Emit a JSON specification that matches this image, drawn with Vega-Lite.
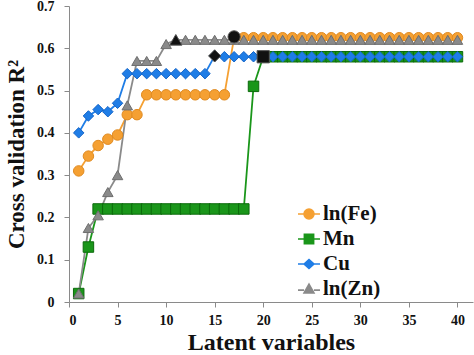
{
  "$schema": "https://vega.github.io/schema/vega-lite/v6.json",
  "width": 404,
  "height": 296,
  "autosize": {"type": "none"},
  "padding": {"left": 69, "top": 6, "right": 1, "bottom": 53},
  "config": {
    "view": {"stroke": null},
    "font": "Liberation Serif",
    "axis": {
      "domainColor": "#8a8a8a",
      "tickColor": "#8a8a8a",
      "grid": false,
      "labelFont": "Liberation Serif",
      "labelFontWeight": "bold",
      "labelFontSize": 14,
      "labelColor": "#111",
      "titleFont": "Liberation Serif",
      "titleFontWeight": "bold",
      "titleColor": "#111",
      "tickSize": 5
    },
    "legend": {"labelFont": "Liberation Serif", "labelFontWeight": "bold"}
  },
  "resolve": {
    "scale": {"shape": "independent", "stroke": "independent"},
    "legend": {"color": "independent", "shape": "independent", "stroke": "independent"}
  },
  "datasets": {
    "cv": [
      {"series": "Mn", "lv": 1, "r2": 0.02}, {"series": "Mn", "lv": 2, "r2": 0.13}, {"series": "Mn", "lv": 3, "r2": 0.22}, {"series": "Mn", "lv": 4, "r2": 0.22}, {"series": "Mn", "lv": 5, "r2": 0.22}, {"series": "Mn", "lv": 6, "r2": 0.22}, {"series": "Mn", "lv": 7, "r2": 0.22}, {"series": "Mn", "lv": 8, "r2": 0.22}, {"series": "Mn", "lv": 9, "r2": 0.22}, {"series": "Mn", "lv": 10, "r2": 0.22},
      {"series": "Mn", "lv": 11, "r2": 0.22}, {"series": "Mn", "lv": 12, "r2": 0.22}, {"series": "Mn", "lv": 13, "r2": 0.22}, {"series": "Mn", "lv": 14, "r2": 0.22}, {"series": "Mn", "lv": 15, "r2": 0.22}, {"series": "Mn", "lv": 16, "r2": 0.22}, {"series": "Mn", "lv": 17, "r2": 0.22}, {"series": "Mn", "lv": 18, "r2": 0.22}, {"series": "Mn", "lv": 19, "r2": 0.51}, {"series": "Mn", "lv": 20, "r2": 0.58},
      {"series": "Mn", "lv": 21, "r2": 0.58}, {"series": "Mn", "lv": 22, "r2": 0.58}, {"series": "Mn", "lv": 23, "r2": 0.58}, {"series": "Mn", "lv": 24, "r2": 0.58}, {"series": "Mn", "lv": 25, "r2": 0.58}, {"series": "Mn", "lv": 26, "r2": 0.58}, {"series": "Mn", "lv": 27, "r2": 0.58}, {"series": "Mn", "lv": 28, "r2": 0.58}, {"series": "Mn", "lv": 29, "r2": 0.58}, {"series": "Mn", "lv": 30, "r2": 0.58},
      {"series": "Mn", "lv": 31, "r2": 0.58}, {"series": "Mn", "lv": 32, "r2": 0.58}, {"series": "Mn", "lv": 33, "r2": 0.58}, {"series": "Mn", "lv": 34, "r2": 0.58}, {"series": "Mn", "lv": 35, "r2": 0.58}, {"series": "Mn", "lv": 36, "r2": 0.58}, {"series": "Mn", "lv": 37, "r2": 0.58}, {"series": "Mn", "lv": 38, "r2": 0.58}, {"series": "Mn", "lv": 39, "r2": 0.58}, {"series": "Mn", "lv": 40, "r2": 0.58},
      {"series": "ln(Fe)", "lv": 1, "r2": 0.31}, {"series": "ln(Fe)", "lv": 2, "r2": 0.345}, {"series": "ln(Fe)", "lv": 3, "r2": 0.37}, {"series": "ln(Fe)", "lv": 4, "r2": 0.385}, {"series": "ln(Fe)", "lv": 5, "r2": 0.395}, {"series": "ln(Fe)", "lv": 6, "r2": 0.443}, {"series": "ln(Fe)", "lv": 7, "r2": 0.443}, {"series": "ln(Fe)", "lv": 8, "r2": 0.49}, {"series": "ln(Fe)", "lv": 9, "r2": 0.49}, {"series": "ln(Fe)", "lv": 10, "r2": 0.49},
      {"series": "ln(Fe)", "lv": 11, "r2": 0.49}, {"series": "ln(Fe)", "lv": 12, "r2": 0.49}, {"series": "ln(Fe)", "lv": 13, "r2": 0.49}, {"series": "ln(Fe)", "lv": 14, "r2": 0.49}, {"series": "ln(Fe)", "lv": 15, "r2": 0.49}, {"series": "ln(Fe)", "lv": 16, "r2": 0.49}, {"series": "ln(Fe)", "lv": 17, "r2": 0.625}, {"series": "ln(Fe)", "lv": 18, "r2": 0.625}, {"series": "ln(Fe)", "lv": 19, "r2": 0.625}, {"series": "ln(Fe)", "lv": 20, "r2": 0.625},
      {"series": "ln(Fe)", "lv": 21, "r2": 0.625}, {"series": "ln(Fe)", "lv": 22, "r2": 0.625}, {"series": "ln(Fe)", "lv": 23, "r2": 0.625}, {"series": "ln(Fe)", "lv": 24, "r2": 0.625}, {"series": "ln(Fe)", "lv": 25, "r2": 0.625}, {"series": "ln(Fe)", "lv": 26, "r2": 0.625}, {"series": "ln(Fe)", "lv": 27, "r2": 0.625}, {"series": "ln(Fe)", "lv": 28, "r2": 0.625}, {"series": "ln(Fe)", "lv": 29, "r2": 0.625}, {"series": "ln(Fe)", "lv": 30, "r2": 0.625},
      {"series": "ln(Fe)", "lv": 31, "r2": 0.625}, {"series": "ln(Fe)", "lv": 32, "r2": 0.625}, {"series": "ln(Fe)", "lv": 33, "r2": 0.625}, {"series": "ln(Fe)", "lv": 34, "r2": 0.625}, {"series": "ln(Fe)", "lv": 35, "r2": 0.625}, {"series": "ln(Fe)", "lv": 36, "r2": 0.625}, {"series": "ln(Fe)", "lv": 37, "r2": 0.625}, {"series": "ln(Fe)", "lv": 38, "r2": 0.625}, {"series": "ln(Fe)", "lv": 39, "r2": 0.625}, {"series": "ln(Fe)", "lv": 40, "r2": 0.625},
      {"series": "Cu", "lv": 1, "r2": 0.40}, {"series": "Cu", "lv": 2, "r2": 0.44}, {"series": "Cu", "lv": 3, "r2": 0.455}, {"series": "Cu", "lv": 4, "r2": 0.45}, {"series": "Cu", "lv": 5, "r2": 0.47}, {"series": "Cu", "lv": 6, "r2": 0.54}, {"series": "Cu", "lv": 7, "r2": 0.54}, {"series": "Cu", "lv": 8, "r2": 0.54}, {"series": "Cu", "lv": 9, "r2": 0.54}, {"series": "Cu", "lv": 10, "r2": 0.54},
      {"series": "Cu", "lv": 11, "r2": 0.54}, {"series": "Cu", "lv": 12, "r2": 0.54}, {"series": "Cu", "lv": 13, "r2": 0.54}, {"series": "Cu", "lv": 14, "r2": 0.54}, {"series": "Cu", "lv": 15, "r2": 0.582}, {"series": "Cu", "lv": 16, "r2": 0.58}, {"series": "Cu", "lv": 17, "r2": 0.58}, {"series": "Cu", "lv": 18, "r2": 0.58}, {"series": "Cu", "lv": 19, "r2": 0.58}, {"series": "Cu", "lv": 20, "r2": 0.58},
      {"series": "Cu", "lv": 21, "r2": 0.58}, {"series": "Cu", "lv": 22, "r2": 0.58}, {"series": "Cu", "lv": 23, "r2": 0.58}, {"series": "Cu", "lv": 24, "r2": 0.58}, {"series": "Cu", "lv": 25, "r2": 0.58}, {"series": "Cu", "lv": 26, "r2": 0.58}, {"series": "Cu", "lv": 27, "r2": 0.58}, {"series": "Cu", "lv": 28, "r2": 0.58}, {"series": "Cu", "lv": 29, "r2": 0.58}, {"series": "Cu", "lv": 30, "r2": 0.58},
      {"series": "Cu", "lv": 31, "r2": 0.58}, {"series": "Cu", "lv": 32, "r2": 0.58}, {"series": "Cu", "lv": 33, "r2": 0.58}, {"series": "Cu", "lv": 34, "r2": 0.58}, {"series": "Cu", "lv": 35, "r2": 0.58}, {"series": "Cu", "lv": 36, "r2": 0.58}, {"series": "Cu", "lv": 37, "r2": 0.58}, {"series": "Cu", "lv": 38, "r2": 0.58}, {"series": "Cu", "lv": 39, "r2": 0.58}, {"series": "Cu", "lv": 40, "r2": 0.58},
      {"series": "ln(Zn)", "lv": 1, "r2": 0.02}, {"series": "ln(Zn)", "lv": 2, "r2": 0.175}, {"series": "ln(Zn)", "lv": 3, "r2": 0.205}, {"series": "ln(Zn)", "lv": 4, "r2": 0.26}, {"series": "ln(Zn)", "lv": 5, "r2": 0.30}, {"series": "ln(Zn)", "lv": 6, "r2": 0.465}, {"series": "ln(Zn)", "lv": 7, "r2": 0.57}, {"series": "ln(Zn)", "lv": 8, "r2": 0.57}, {"series": "ln(Zn)", "lv": 9, "r2": 0.57}, {"series": "ln(Zn)", "lv": 10, "r2": 0.61},
      {"series": "ln(Zn)", "lv": 11, "r2": 0.62}, {"series": "ln(Zn)", "lv": 12, "r2": 0.62}, {"series": "ln(Zn)", "lv": 13, "r2": 0.62}, {"series": "ln(Zn)", "lv": 14, "r2": 0.62}, {"series": "ln(Zn)", "lv": 15, "r2": 0.62}, {"series": "ln(Zn)", "lv": 16, "r2": 0.62}, {"series": "ln(Zn)", "lv": 17, "r2": 0.62}, {"series": "ln(Zn)", "lv": 18, "r2": 0.62}, {"series": "ln(Zn)", "lv": 19, "r2": 0.62}, {"series": "ln(Zn)", "lv": 20, "r2": 0.62},
      {"series": "ln(Zn)", "lv": 21, "r2": 0.62}, {"series": "ln(Zn)", "lv": 22, "r2": 0.62}, {"series": "ln(Zn)", "lv": 23, "r2": 0.62}, {"series": "ln(Zn)", "lv": 24, "r2": 0.62}, {"series": "ln(Zn)", "lv": 25, "r2": 0.62}, {"series": "ln(Zn)", "lv": 26, "r2": 0.62}, {"series": "ln(Zn)", "lv": 27, "r2": 0.62}, {"series": "ln(Zn)", "lv": 28, "r2": 0.62}, {"series": "ln(Zn)", "lv": 29, "r2": 0.62}, {"series": "ln(Zn)", "lv": 30, "r2": 0.62},
      {"series": "ln(Zn)", "lv": 31, "r2": 0.62}, {"series": "ln(Zn)", "lv": 32, "r2": 0.62}, {"series": "ln(Zn)", "lv": 33, "r2": 0.62}, {"series": "ln(Zn)", "lv": 34, "r2": 0.62}, {"series": "ln(Zn)", "lv": 35, "r2": 0.62}, {"series": "ln(Zn)", "lv": 36, "r2": 0.62}, {"series": "ln(Zn)", "lv": 37, "r2": 0.62}, {"series": "ln(Zn)", "lv": 38, "r2": 0.62}, {"series": "ln(Zn)", "lv": 39, "r2": 0.62}, {"series": "ln(Zn)", "lv": 40, "r2": 0.62}
    ],
    "best": [
      {"series": "ln(Zn)", "lv": 11, "r2": 0.62},
      {"series": "Cu", "lv": 15, "r2": 0.582},
      {"series": "ln(Fe)", "lv": 17, "r2": 0.627},
      {"series": "Mn", "lv": 20, "r2": 0.58}
    ]
  },
  "encoding": {
    "x": {
      "field": "lv", "type": "quantitative",
      "scale": {"domain": [0, 41.6], "nice": false},
      "axis": {"values": [0, 5, 10, 15, 20, 25, 30, 35, 40], "title": "Latent variables", "titleFontSize": 24, "titlePadding": 3, "labelPadding": 6}
    },
    "y": {
      "field": "r2", "type": "quantitative",
      "scale": {"domain": [0, 0.7], "nice": false},
      "axis": {"values": [0, 0.1, 0.2, 0.3, 0.4, 0.5, 0.6, 0.7], "labelExpr": "datum.value == 0 ? '0' : format(datum.value, '.1f')", "title": "Cross validation R²", "titleFontSize": 23, "titlePadding": 8, "labelPadding": 10}
    }
  },
  "layer": [
    {
      "mark": {"type": "rule", "color": "#9a9a9a", "strokeWidth": 1},
      "encoding": {"y": {"datum": 0.7}, "x": {"datum": 0}, "x2": {"datum": 41.6}}
    },
    {
      "data": {"name": "cv"},
      "mark": {"type": "line", "strokeWidth": 1.8},
      "encoding": {
        "color": {"field": "series", "type": "nominal",
          "scale": {"domain": ["ln(Fe)", "Mn", "Cu", "ln(Zn)"], "range": ["#f5a032", "#1a961a", "#1f7de6", "#8a8a8a"]},
          "legend": null},
        "detail": {"field": "series"}
      }
    },
    {
      "data": {"name": "cv"},
      "mark": {"type": "point", "filled": true, "size": 110, "opacity": 1, "strokeWidth": 1},
      "encoding": {
        "color": {"field": "series", "type": "nominal",
          "scale": {"domain": ["ln(Fe)", "Mn", "Cu", "ln(Zn)"], "range": ["#f5a032", "#1a961a", "#1f7de6", "#8a8a8a"]},
          "legend": null},
        "shape": {"field": "series", "type": "nominal",
          "scale": {"domain": ["ln(Fe)", "Mn", "Cu", "ln(Zn)"], "range": ["circle", "square", "diamond", "triangle-up"]},
          "legend": null},
        "stroke": {"field": "series", "type": "nominal",
          "scale": {"domain": ["ln(Fe)", "Mn", "Cu", "ln(Zn)"], "range": ["#e08a20", "#0c6a0c", "#1565c8", "#6e6e6e"]},
          "legend": null}
      }
    },
    {
      "data": {"name": "best"},
      "mark": {"type": "point", "filled": true, "size": 150, "color": "#111", "opacity": 1, "stroke": "#555", "strokeWidth": 1},
      "encoding": {
        "shape": {"field": "series", "type": "nominal",
          "scale": {"domain": ["ln(Fe)", "Mn", "Cu", "ln(Zn)"], "range": ["circle", "square", "diamond", "triangle-up"]},
          "legend": null}
      }
    },
    {
      "data": {"name": "best"},
      "mark": {"type": "point", "filled": true, "opacity": 0, "size": 10},
      "encoding": {
        "color": {"field": "series", "type": "nominal",
          "scale": {"domain": ["ln(Fe)", "Mn", "Cu", "ln(Zn)"], "range": ["#f5a032", "#1a961a", "#1f7de6", "#8a8a8a"]},
          "legend": {
            "orient": "none", "legendX": 228, "legendY": 196, "title": null,
            "symbolSize": 484, "symbolOpacity": 1, "symbolStrokeWidth": 1.6, "rowPadding": 3,
            "labelFont": "Liberation Serif", "labelFontWeight": "bold", "labelFontSize": 21, "labelColor": "#111", "labelOffset": 2
          }},
        "shape": {"field": "series", "type": "nominal",
          "scale": {"domain": ["ln(Fe)", "Mn", "Cu", "ln(Zn)"], "range": [
            "M-1,0L-0.45,0M0.45,0L1,0M-0.45,0A0.45,0.45,0,1,0,0.45,0A0.45,0.45,0,1,0,-0.45,0Z",
            "M-1,0L-0.42,0M0.42,0L1,0M-0.42,-0.42L0.42,-0.42L0.42,0.42L-0.42,0.42Z",
            "M-1,0L-0.45,0M0.45,0L1,0M-0.45,0L0,-0.4L0.45,0L0,0.4Z",
            "M-1,0.1L-0.45,0.1M0.45,0.1L1,0.1M-0.45,0.35L0,-0.45L0.45,0.35Z"]},
          "legend": {
            "orient": "none", "legendX": 228, "legendY": 196, "title": null,
            "symbolSize": 484, "symbolOpacity": 1, "symbolStrokeWidth": 1.6, "rowPadding": 3,
            "labelFont": "Liberation Serif", "labelFontWeight": "bold", "labelFontSize": 21, "labelColor": "#111", "labelOffset": 2
          }},
        "stroke": {"field": "series", "type": "nominal",
          "scale": {"domain": ["ln(Fe)", "Mn", "Cu", "ln(Zn)"], "range": ["#f5a032", "#1a961a", "#1f7de6", "#8a8a8a"]},
          "legend": {
            "orient": "none", "legendX": 228, "legendY": 196, "title": null,
            "symbolSize": 484, "symbolOpacity": 1, "symbolStrokeWidth": 1.6, "rowPadding": 3,
            "labelFont": "Liberation Serif", "labelFontWeight": "bold", "labelFontSize": 21, "labelColor": "#111", "labelOffset": 2
          }}
      }
    }
  ]
}
